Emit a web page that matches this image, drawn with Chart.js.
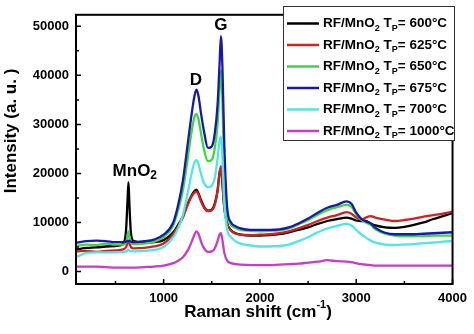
<!DOCTYPE html>
<html>
<head>
<meta charset="utf-8">
<script src="https://cdn.jsdelivr.net/npm/chart.js@4.4.1/dist/chart.umd.min.js"></script>
<style>
  html, body { margin: 0; padding: 0; background: #fff; }
  #ramanChart { display: block; }
</style>
</head>
<body>
<canvas id="ramanChart" width="474" height="334"></canvas>
<script>
// Desplazamiento Raman (cm-1), eje x común a todos los espectros
const ramanShift = [100, 200, 300, 400, 500, 580, 610, 625, 635, 645, 660, 690, 800, 900, 1000, 1100, 1150, 1200, 1250,
    1290, 1320, 1340, 1360, 1390, 1420, 1460, 1500, 1530, 1560, 1580, 1595, 1610, 1630, 1660, 1700,
    1750, 1800, 1900, 2000, 2100, 2200, 2300, 2400, 2500, 2600, 2700, 2800, 2900, 2950, 3000, 3050,
    3100, 3150, 3200, 3300, 3400, 3500, 3600, 3700, 3800, 3900, 4000];

// Intensidades (a. u.)
const tp600 = [4500, 4800, 4900, 5100, 5200, 5600, 8500, 14500, 18200, 13500, 8000, 6200, 5900, 6000, 6400, 8000, 9500, 11200, 13800,
    15500, 16400, 16700, 16000, 14500, 13200, 12400, 12600, 13800, 16500, 20000, 21000, 18000, 13000, 9800, 8400,
    7800, 7500, 7300, 7300, 7400, 7600, 8000, 8500, 9000, 9700, 10300, 10700, 11000, 10800, 10400, 10300,
    10300, 9800, 9400, 9000, 8900, 9100, 9500, 10000, 10700, 11300, 11900];
const tp625 = [4100, 4200, 4000, 4200, 4300, 4500, 5000, 5800, 6100, 5700, 5000, 4700, 4800, 5100, 5700, 7600, 9200, 11000, 13600,
    15300, 16100, 16300, 15800, 14200, 13000, 12300, 12500, 13500, 16500, 20000, 21500, 18500, 13000, 9700, 8300,
    7700, 7500, 7400, 7500, 7600, 7800, 8200, 8800, 9500, 10300, 11000, 11500, 12100, 11800, 11000, 10600,
    11000, 11300, 11000, 10600, 10300, 10500, 10800, 11200, 11500, 11800, 12200];
const tp650 = [5200, 5500, 5400, 5700, 5500, 5500, 6000, 7200, 8200, 7000, 5900, 5600, 5700, 6100, 7000, 9400, 12500, 16500, 23000,
    28500, 31500, 32100, 31200, 28000, 24800, 22500, 22800, 25000, 30000, 37000, 41000, 35000, 20000, 11800, 9500,
    8900, 8500, 8300, 8200, 8300, 8400, 8800, 9600, 10500, 11600, 12500, 13100, 13600, 13200, 11700, 10600,
    10000, 9500, 8600, 7700, 7300, 7200, 7200, 7200, 7300, 7300, 7300];
const tp675 = [5900, 6200, 6300, 6200, 6000, 6000, 6100, 6200, 6300, 6200, 6100, 6000, 6200, 6500, 7500, 10000, 13500, 18500, 26000,
    32000, 35800, 37100, 36000, 32000, 28500, 25200, 25500, 28000, 34000, 42000, 48000, 42000, 26000, 13000, 10000,
    9200, 8800, 8500, 8500, 8500, 8600, 9000, 9800, 10800, 12000, 13000, 13600, 14300, 13800, 12000, 10800,
    10200, 9800, 8900, 7900, 7600, 7600, 7600, 7700, 7800, 7900, 8000];
const tp700 = [3000, 3800, 3900, 3900, 3900, 4000, 4100, 4300, 4400, 4300, 4100, 4100, 4200, 4400, 5000, 7000, 8800, 11500, 16000,
    20000, 22200, 22700, 22000, 19800, 18000, 17200, 17500, 19000, 23000, 26500, 27500, 23500, 14000, 8500, 7000,
    6100, 5700, 5300, 5100, 5100, 5200, 5500, 6200, 7000, 8000, 8800, 9300, 9700, 9400, 8500, 7600,
    6900, 6300, 5900, 5500, 5400, 5500, 5600, 5800, 5900, 6100, 6200];
const tp1000 = [1000, 1000, 1000, 900, 800, 800, 800, 800, 800, 800, 800, 800, 900, 1000, 1200, 1700, 2200, 2900, 4300,
    6000, 7500, 8200, 7800, 6000, 4700, 4000, 4100, 4700, 6200, 7500, 7800, 6500, 3800, 2200, 1700,
    1500, 1400, 1300, 1300, 1300, 1400, 1500, 1600, 1800, 2000, 2300, 2100, 2000, 1900, 1700, 1500,
    1400, 1300, 1200, 1200, 1200, 1200, 1200, 1200, 1200, 1200, 1200];

const seriesData = [tp600, tp625, tp650, tp675, tp700, tp1000];
const seriesTemps = ['600°C', '625°C', '650°C', '675°C', '700°C', '1000°C'];
const seriesColors = ['#000000', '#d42020', '#3cd83c', '#1818b0', '#4ee6e6', '#c83cc8'];

// Marcas de los ejes
const xTicks = [1000, 2000, 3000, 4000];
const xMinor = [500, 1500, 2500, 3500];
const yTicks = [0, 10000, 20000, 30000, 40000, 50000];
const yMinor = [5000, 15000, 25000, 35000, 45000];

const FONT = '"Liberation Sans", Arial, Helvetica, sans-serif';

// Dibuja texto con trozos en subíndice/superíndice, devuelve el ancho total
const drawRich = (ctx, parts, x, y, measureOnly) => {
    let cx = x;
    parts.forEach(p => {
        ctx.font = `bold ${p.size}px ${FONT}`;
        if (!measureOnly) ctx.fillText(p.t, cx, y + (p.dy || 0));
        cx += ctx.measureText(p.t).width;
    });
    return cx - x;
};

// Plugin: marco, ticks hacia dentro, leyenda, anotaciones y títulos
const decoPlugin = {
    id: 'deco',
    afterDraw(chart) {
        const { ctx, chartArea: a, scales: { x, y } } = chart;
        ctx.save();

        // Marco del gráfico
        ctx.strokeStyle = '#000';
        ctx.lineWidth = 2;
        ctx.strokeRect(a.left, a.top, a.right - a.left, a.bottom - a.top);

        // Ticks
        ctx.lineWidth = 1.5;
        ctx.beginPath();
        xTicks.forEach(v => { const p = x.getPixelForValue(v); ctx.moveTo(p, a.bottom); ctx.lineTo(p, a.bottom - 5); });
        xMinor.forEach(v => { const p = x.getPixelForValue(v); ctx.moveTo(p, a.bottom); ctx.lineTo(p, a.bottom - 3); });
        yTicks.forEach(v => { const p = y.getPixelForValue(v); ctx.moveTo(a.left, p); ctx.lineTo(a.left + 5, p); });
        yMinor.forEach(v => { const p = y.getPixelForValue(v); ctx.moveTo(a.left, p); ctx.lineTo(a.left + 3, p); });
        ctx.stroke();

        // Leyenda
        const lx = 283, ly = 6, lw = 171, lh = 134;
        ctx.fillStyle = '#fff';
        ctx.fillRect(lx, ly, lw, lh);
        ctx.strokeStyle = '#333';
        ctx.lineWidth = 1;
        ctx.strokeRect(lx + 0.5, ly + 0.5, lw, lh);
        ctx.textBaseline = 'middle';
        ctx.textAlign = 'left';
        seriesTemps.forEach((temp, i) => {
            const ry = 23.5 + i * 21.5;
            ctx.strokeStyle = seriesColors[i];
            ctx.lineWidth = 2.5;
            ctx.beginPath();
            ctx.moveTo(287, ry);
            ctx.lineTo(319, ry);
            ctx.stroke();
            ctx.fillStyle = '#000';
            drawRich(ctx, [
                { t: 'RF/MnO', size: 13.5 },
                { t: '2', size: 9, dy: 5 },
                { t: ' T', size: 13.5 },
                { t: 'P', size: 9, dy: 5 },
                { t: '= ' + temp, size: 13.5 }
            ], 323, ry);
        });

        // Anotaciones de picos
        ctx.fillStyle = '#000';
        drawRich(ctx, [{ t: 'MnO', size: 17 }, { t: '2', size: 12, dy: 4 }], x.getPixelForValue(470), y.getPixelForValue(20400));
        ctx.textAlign = 'center';
        ctx.font = `bold 17px ${FONT}`;
        ctx.fillText('D', x.getPixelForValue(1335), y.getPixelForValue(39000));
        ctx.fillText('G', x.getPixelForValue(1595), y.getPixelForValue(50200));

        // Título del eje x con superíndice
        ctx.textAlign = 'left';
        const xParts = [
            { t: 'Raman shift (cm', size: 17 },
            { t: '-1', size: 11, dy: -7 },
            { t: ')', size: 17 }
        ];
        const w = drawRich(ctx, xParts, 0, 0, true);
        drawRich(ctx, xParts, 258 - w / 2, 312);

        // Título del eje y
        ctx.translate(11, 131);
        ctx.rotate(-Math.PI / 2);
        ctx.textAlign = 'center';
        ctx.font = `bold 17px ${FONT}`;
        ctx.fillText('Intensity (a. u. )', 0, 0);

        ctx.restore();
    }
};

const ctx = document.getElementById('ramanChart').getContext('2d');

const ramanChart = new Chart(ctx, {
    type: 'line',
    data: {
        datasets: seriesData.map((vals, i) => ({
            label: 'RF/MnO2 TP= ' + seriesTemps[i],
            data: ramanShift.map((s, j) => ({ x: s, y: vals[j] })),
            borderColor: seriesColors[i],
            borderWidth: 2.3,
            pointRadius: 0,
            fill: false,
            cubicInterpolationMode: 'monotone',
            order: seriesData.length - i // la última serie queda encima
        }))
    },
    options: {
        responsive: false,
        animation: false,
        devicePixelRatio: 1,
        layout: { padding: { top: 4, right: 18, left: 0, bottom: 0 } },
        plugins: {
            legend: { display: false },
            tooltip: { enabled: false }
        },
        scales: {
            x: {
                type: 'linear',
                min: 90,
                max: 4000,
                grid: { display: false, drawTicks: false },
                border: { display: false },
                afterBuildTicks: scale => { scale.ticks = xTicks.map(v => ({ value: v })); },
                afterFit: scale => { scale.height = 50; },
                ticks: {
                    padding: 7,
                    color: '#000',
                    font: { family: FONT, size: 13, weight: 'bold' },
                    callback: v => String(v)
                }
            },
            y: {
                min: -2550,
                max: 52350,
                grid: { display: false, drawTicks: false },
                border: { display: false },
                afterBuildTicks: scale => { scale.ticks = yTicks.map(v => ({ value: v })); },
                afterFit: scale => { scale.width = 76; },
                ticks: {
                    padding: 7,
                    color: '#000',
                    font: { family: FONT, size: 13, weight: 'bold' },
                    callback: v => String(v)
                }
            }
        }
    },
    plugins: [decoPlugin]
});
</script>
</body>
</html>
